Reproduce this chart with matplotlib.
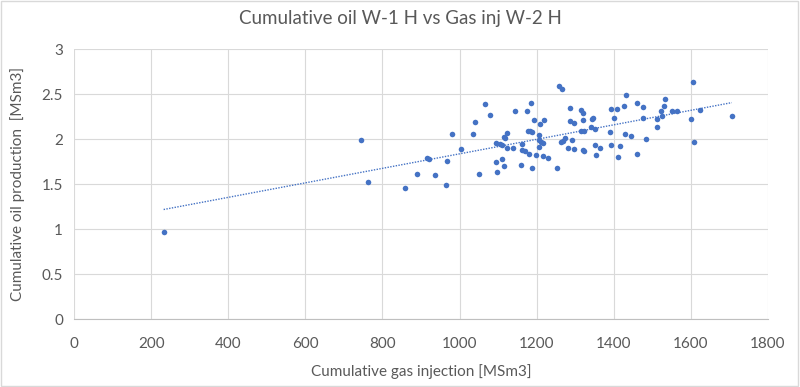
import numpy as np
import matplotlib
matplotlib.use("Agg")
import matplotlib.pyplot as plt
from matplotlib.patches import Rectangle

gas_injection = [232.5, 745, 762.5, 858, 889, 915, 922, 937, 966, 968, 981, 1005, 1035, 1040,
                 1050, 1065, 1079, 1094, 1095, 1097, 1104, 1110, 1110, 1114, 1116, 1119, 1122,
                 1124, 1138, 1143, 1159, 1163, 1163, 1170, 1174, 1177, 1182, 1187, 1181, 1186,
                 1187, 1193.5, 1197, 1205, 1206, 1206, 1208, 1210, 1216, 1217.5, 1220, 1230,
                 1254, 1258.5, 1262, 1265, 1268, 1273, 1280, 1287, 1287, 1290.6, 1297, 1297.5,
                 1314, 1316, 1320, 1320, 1320, 1323, 1324, 1341, 1343, 1347, 1350, 1352, 1355,
                 1364, 1390, 1393, 1393, 1401, 1408, 1410, 1417, 1427, 1428, 1431, 1445.5, 1460,
                 1460, 1475, 1477, 1483, 1512, 1512.5, 1523, 1525.5, 1529, 1532, 1552, 1563,
                 1601, 1605.5, 1608, 1623, 1706]
oil_production = [0.973, 1.996, 1.526, 1.459, 1.618, 1.79, 1.78, 1.603, 1.496, 1.759, 2.055, 1.892,
                  2.06, 2.19, 1.618, 2.389, 2.27, 1.751, 1.955, 1.633, 1.948, 1.93, 1.785, 2.02,
                  1.707, 2.01, 1.90, 2.07, 1.90, 2.31, 1.711, 1.948, 1.877, 1.87, 2.318, 2.092,
                  2.088, 2.08, 1.837, 2.407, 1.685, 2.218, 1.829, 1.918, 2.044, 1.992, 2.173,
                  1.97, 1.811, 1.959, 2.218, 1.789, 1.677, 2.596, 1.97, 2.556, 1.985, 2.01, 1.9,
                  2.344, 2.2, 1.996, 1.892, 2.178, 2.096, 2.322, 2.292, 2.211, 1.884, 1.867,
                  2.096, 2.133, 2.226, 2.24, 1.937, 2.111, 1.829, 1.9, 2.078, 2.34, 1.937, 2.24,
                  2.337, 1.803, 1.922, 2.37, 2.056, 2.489, 2.037, 2.4, 1.833, 2.362, 2.24, 2.003,
                  2.226, 2.133, 2.318, 2.262, 2.37, 2.451, 2.31, 2.318, 2.226, 2.637, 1.967,
                  2.329, 2.255]

x_ticks = [0, 200, 400, 600, 800, 1000, 1200, 1400, 1600, 1800]
y_ticks = [0, 0.5, 1, 1.5, 2, 2.5, 3]
y_tick_labels = ["0", "0.5", "1", "1.5", "2", "2.5", "3"]

plt.rcParams['font.family'] = ['Lato', 'DejaVu Sans']

fig = plt.figure(figsize=(8, 3.87), dpi=100)
ax = fig.add_axes([0.0925, 0.175, 0.8675, 0.698])

x = np.array(gas_injection)
y = np.array(oil_production)
ax.scatter(x, y, s=16, color='#4472C4', zorder=3, linewidths=0)

coef = np.polyfit(x, y, 1)
xt = np.array([x.min(), x.max()])
ax.plot(xt, np.polyval(coef, xt), linestyle=(0, (1, 1)), color='#4472C4', lw=1.0, zorder=2)

ax.set_xlim(0, 1800)
ax.set_ylim(0, 3)
ax.set_xticks(x_ticks)
ax.set_xticklabels([str(t) for t in x_ticks])
ax.set_yticks(y_ticks)
ax.set_yticklabels(y_tick_labels)
ax.grid(True, color='#D9D9D9', lw=0.8)
ax.set_axisbelow(True)
for s in ['top', 'right', 'left']:
    ax.spines[s].set_visible(False)
ax.spines['bottom'].set_color('#BFBFBF')
ax.tick_params(axis='x', length=0, labelsize=11, colors='#595959', pad=13)
ax.tick_params(axis='y', length=0, labelsize=11, colors='#595959', pad=8)

ax.set_xlabel('Cumulative gas injection [MSm3]', fontsize=11, color='#595959', labelpad=9)
ax.set_ylabel('Cumulative oil production  [MSm3]', fontsize=11, color='#595959', labelpad=12)
fig.suptitle('Cumulative oil W-1 H vs Gas inj W-2 H', fontsize=13.5, color='#595959', y=0.975)

fig.patches.append(Rectangle((0.001, 0.002), 0.997, 0.995, transform=fig.transFigure,
                             fill=False, edgecolor='#D9D9D9', lw=1))

fig.savefig('out.png', dpi=100, facecolor='white')
